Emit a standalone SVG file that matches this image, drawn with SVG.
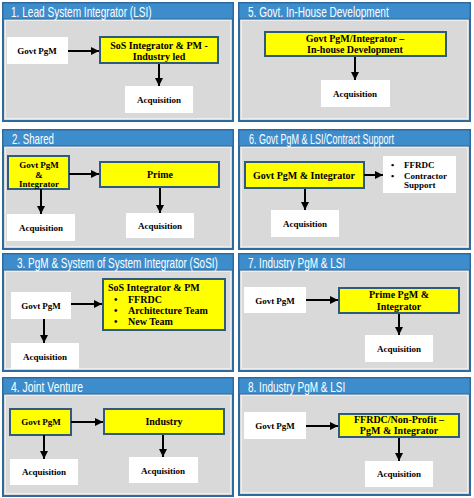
<svg xmlns="http://www.w3.org/2000/svg" width="474" height="498" viewBox="0 0 474 498">
<defs>
<marker id="ah" markerUnits="userSpaceOnUse" markerWidth="9" markerHeight="9" refX="8" refY="4" orient="auto">
<path d="M0,0 L8,4 L0,8 Z" fill="#000"/>
</marker>
<style>
.panel{fill:#d9d9d9;stroke:#2f6a9e;stroke-width:2}
.inner{fill:none;stroke:#ededed;stroke-width:1}
.hdr{fill:#3d8dcc;stroke:#2f6a9e;stroke-width:1}
.ht{font-family:"Liberation Sans",Arial,sans-serif;font-size:14px;fill:#fff}
.wb{fill:#fff}
.yb{fill:#ffff00;stroke:#2e5b7d;stroke-width:2}
.t{font-family:"Liberation Serif","Times New Roman",serif;font-weight:bold;font-size:9px;fill:#000;text-anchor:middle}
.t10{font-size:10px}
.tl{text-anchor:start}
.c{stroke:#000;stroke-width:2;fill:none;marker-end:url(#ah)}
</style>
</defs>
<rect width="474" height="498" fill="#fff"/>
<!-- panels -->
<g id="panel1"><rect class="panel" x="3" y="3" width="230" height="118"/><rect class="inner" x="5.5" y="20.5" width="225" height="98"/><rect class="hdr" x="3" y="3" width="230" height="16"/><text class="ht" transform="translate(11,17) scale(0.7,1)" textLength="201" lengthAdjust="spacingAndGlyphs">1. Lead System Integrator (LSI)</text></g>
<g id="panel5"><rect class="panel" x="239" y="3" width="231" height="118"/><rect class="inner" x="241.5" y="20.5" width="226" height="98"/><rect class="hdr" x="239" y="3" width="231" height="16"/><text class="ht" transform="translate(248,17) scale(0.7,1)" textLength="201" lengthAdjust="spacingAndGlyphs">5. Govt. In-House Development</text></g>
<g id="panel2"><rect class="panel" x="3" y="130" width="230" height="119"/><rect class="inner" x="5.5" y="147.5" width="225" height="99"/><rect class="hdr" x="3" y="130" width="230" height="16"/><text class="ht" transform="translate(12,144) scale(0.7,1)" textLength="60" lengthAdjust="spacingAndGlyphs">2. Shared</text></g>
<g id="panel6"><rect class="panel" x="239" y="130" width="231" height="119"/><rect class="inner" x="241.5" y="147.5" width="226" height="99"/><rect class="hdr" x="239" y="130" width="231" height="16"/><text class="ht" transform="translate(249,144) scale(0.7,1)" textLength="207" lengthAdjust="spacingAndGlyphs">6. Govt PgM &amp; LSI/Contract Support</text></g>
<g id="panel3"><rect class="panel" x="3" y="254" width="230" height="117"/><rect class="inner" x="5.5" y="271.5" width="225" height="97"/><rect class="hdr" x="3" y="254" width="230" height="16"/><text class="ht" transform="translate(17,268) scale(0.7,1)" textLength="287" lengthAdjust="spacingAndGlyphs">3. PgM &amp; System of System Integrator (SoSI)</text></g>
<g id="panel7"><rect class="panel" x="239" y="254" width="231" height="117"/><rect class="inner" x="241.5" y="271.5" width="226" height="97"/><rect class="hdr" x="239" y="254" width="231" height="16"/><text class="ht" transform="translate(248,268) scale(0.7,1)" textLength="139" lengthAdjust="spacingAndGlyphs">7. Industry PgM &amp; LSI</text></g>
<g id="panel4"><rect class="panel" x="3" y="378" width="230" height="118"/><rect class="inner" x="5.5" y="395.5" width="225" height="98"/><rect class="hdr" x="3" y="378" width="230" height="16"/><text class="ht" transform="translate(11,392) scale(0.7,1)" textLength="103" lengthAdjust="spacingAndGlyphs">4. Joint Venture</text></g>
<g id="panel8"><rect class="panel" x="239" y="378" width="231" height="117"/><rect class="inner" x="241.5" y="395.5" width="226" height="97"/><rect class="hdr" x="239" y="378" width="231" height="16"/><text class="ht" transform="translate(248,392) scale(0.7,1)" textLength="139" lengthAdjust="spacingAndGlyphs">8. Industry PgM &amp; LSI</text></g>

<!-- panel 1 nodes -->
<g id="p1-govt"><rect class="wb" x="7" y="37" width="61" height="27"/><text class="t" x="37" y="54">Govt PgM</text></g>
<g id="p1-sos"><rect class="yb" x="100" y="37" width="118" height="26"/><text class="t t10" x="159" y="49">SoS Integrator &amp; PM -</text><text class="t t10" x="159" y="60">Industry led</text></g>
<g id="p1-acq"><rect class="wb" x="125" y="86" width="68" height="27"/><text class="t" x="159" y="103">Acquisition</text></g>

<!-- panel 5 nodes -->
<g id="p5-govt"><rect class="yb" x="265" y="32" width="181" height="24"/><text class="t t10" x="355" y="42">Govt PgM/Integrator –</text><text class="t t10" x="355" y="53">In-house Development</text></g>
<g id="p5-acq"><rect class="wb" x="321" y="80" width="69" height="27"/><text class="t" x="355" y="97">Acquisition</text></g>

<!-- panel 2 nodes -->
<g id="p2-govt"><rect class="yb" x="8" y="156" width="61" height="33"/><text class="t" x="39" y="168">Govt PgM</text><text class="t" x="39" y="178">&amp;</text><text class="t" x="39" y="187">Integrator</text></g>
<g id="p2-prime"><rect class="yb" x="100" y="162" width="119" height="25"/><text class="t t10" x="160" y="178">Prime</text></g>
<g id="p2-acq1"><rect class="wb" x="7" y="214" width="68" height="27"/><text class="t" x="41" y="231">Acquisition</text></g>
<g id="p2-acq2"><rect class="wb" x="126" y="213" width="68" height="25"/><text class="t" x="160" y="229">Acquisition</text></g>

<!-- panel 6 nodes -->
<g id="p6-govt"><rect class="yb" x="245" y="162" width="119" height="26"/><text class="t t10" x="304" y="179">Govt PgM &amp; Integrator</text></g>
<g id="p6-support"><rect class="wb" x="383" y="156" width="73" height="37"/><text class="t tl" x="391" y="168">•</text><text class="t tl" x="404" y="168">FFRDC</text><text class="t tl" x="391" y="179">•</text><text class="t tl" x="404" y="179">Contractor</text><text class="t tl" x="404" y="188">Support</text></g>
<g id="p6-acq"><rect class="wb" x="271" y="210" width="68" height="27"/><text class="t" x="305" y="227">Acquisition</text></g>

<!-- panel 3 nodes -->
<g id="p3-govt"><rect class="wb" x="11" y="292" width="60" height="27"/><text class="t" x="41" y="309">Govt PgM</text></g>
<g id="p3-sos"><rect class="yb" x="103" y="279" width="122" height="51"/><text class="t t10 tl" x="108" y="291">SoS Integrator &amp; PM</text><text class="t t10 tl" x="114" y="303">•</text><text class="t t10 tl" x="128" y="303">FFRDC</text><text class="t t10 tl" x="114" y="314">•</text><text class="t t10 tl" x="128" y="314">Architecture Team</text><text class="t t10 tl" x="114" y="325">•</text><text class="t t10 tl" x="128" y="325">New Team</text></g>
<g id="p3-acq"><rect class="wb" x="11" y="343" width="68" height="26"/><text class="t" x="45" y="360">Acquisition</text></g>

<!-- panel 7 nodes -->
<g id="p7-govt"><rect class="wb" x="244" y="287" width="62" height="26"/><text class="t" x="275" y="304">Govt PgM</text></g>
<g id="p7-prime"><rect class="yb" x="339" y="288" width="120" height="25"/><text class="t t10" x="399" y="298">Prime PgM &amp;</text><text class="t t10" x="399" y="310">Integrator</text></g>
<g id="p7-acq"><rect class="wb" x="365" y="335" width="68" height="27"/><text class="t" x="399" y="352">Acquisition</text></g>

<!-- panel 4 nodes -->
<g id="p4-govt"><rect class="yb" x="10" y="409" width="61" height="26"/><text class="t" x="41" y="425">Govt PgM</text></g>
<g id="p4-industry"><rect class="yb" x="104" y="409" width="120" height="25"/><text class="t t10" x="164" y="425">Industry</text></g>
<g id="p4-acq1"><rect class="wb" x="10" y="459" width="68" height="26"/><text class="t" x="44" y="475">Acquisition</text></g>
<g id="p4-acq2"><rect class="wb" x="129" y="457" width="69" height="26"/><text class="t" x="163" y="474">Acquisition</text></g>

<!-- panel 8 nodes -->
<g id="p8-govt"><rect class="wb" x="244" y="412" width="62" height="27"/><text class="t" x="275" y="429">Govt PgM</text></g>
<g id="p8-ffrdc"><rect class="yb" x="339" y="414" width="120" height="23"/><text class="t t10" x="399" y="423">FFRDC/Non-Profit –</text><text class="t t10" x="399" y="434">PgM &amp; Integrator</text></g>
<g id="p8-acq"><rect class="wb" x="365" y="461" width="68" height="26"/><text class="t" x="399" y="477">Acquisition</text></g>

<!-- connectors -->
<g id="connectors">
<line class="c" x1="68" y1="51" x2="99" y2="51"/>
<line class="c" x1="159" y1="64" x2="159" y2="86"/>
<line class="c" x1="355" y1="57" x2="355" y2="80"/>
<line class="c" x1="69" y1="174" x2="99" y2="174"/>
<line class="c" x1="41" y1="189" x2="41" y2="214"/>
<line class="c" x1="160" y1="188" x2="160" y2="213"/>
<line class="c" x1="364" y1="175" x2="383" y2="175"/>
<line class="c" x1="305" y1="189" x2="305" y2="210"/>
<line class="c" x1="71" y1="304" x2="102" y2="304"/>
<line class="c" x1="44" y1="319" x2="44" y2="343"/>
<line class="c" x1="306" y1="300" x2="338" y2="300"/>
<line class="c" x1="399" y1="314" x2="399" y2="335"/>
<line class="c" x1="71" y1="422" x2="103" y2="422"/>
<line class="c" x1="44" y1="435" x2="44" y2="459"/>
<line class="c" x1="163" y1="435" x2="163" y2="457"/>
<line class="c" x1="306" y1="426" x2="338" y2="426"/>
<line class="c" x1="399" y1="438" x2="399" y2="461"/>
</g>
</svg>
